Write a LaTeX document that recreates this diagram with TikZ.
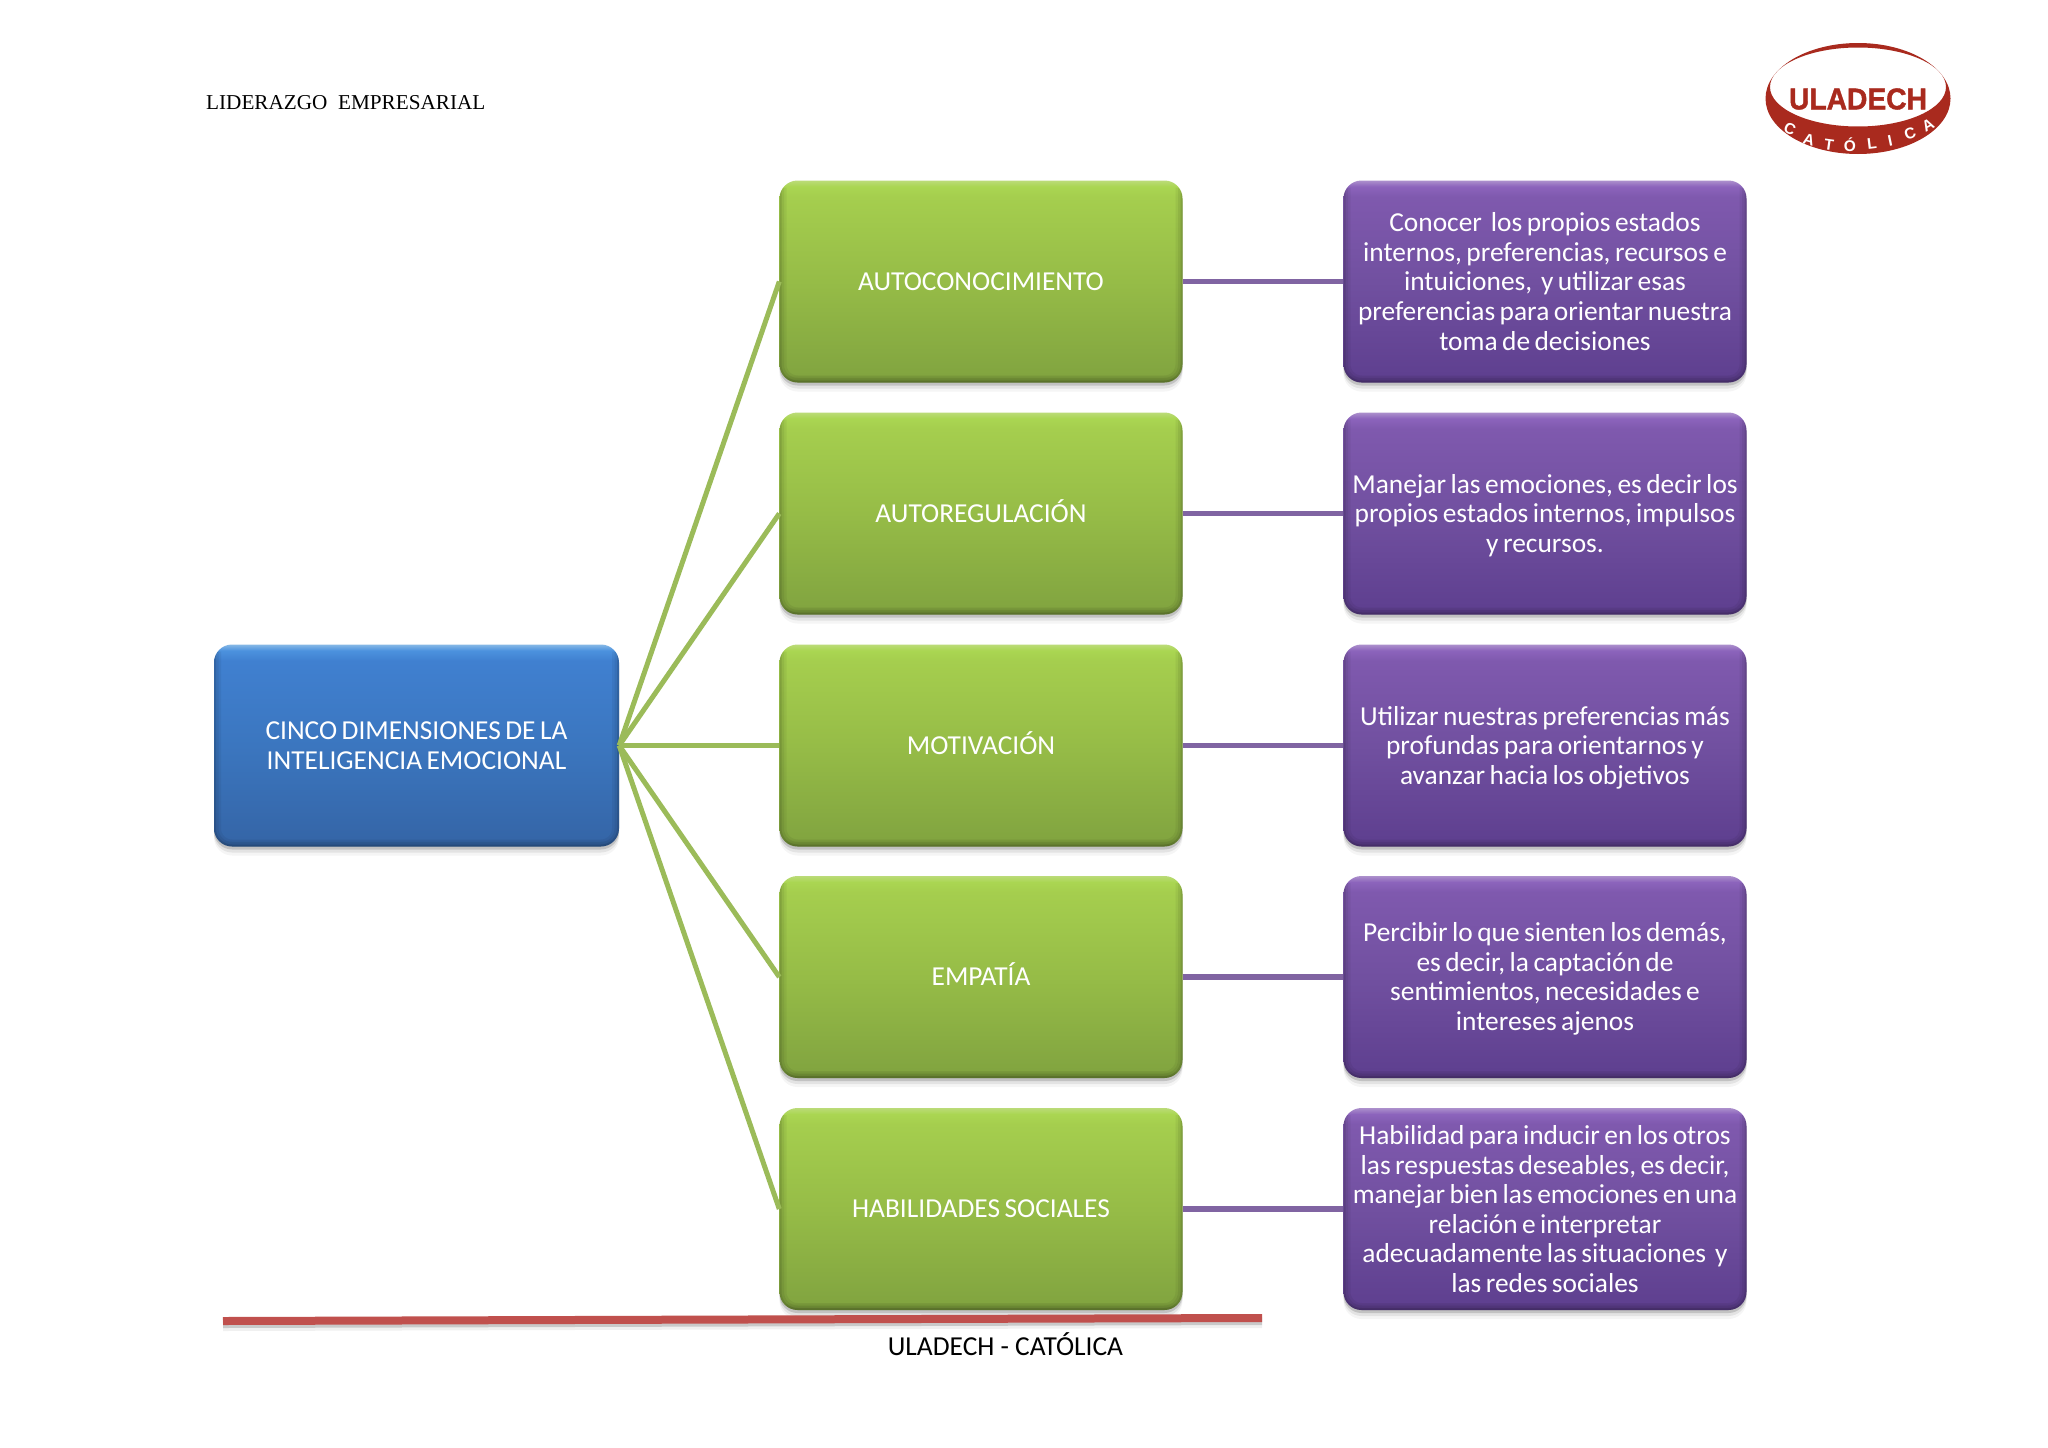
\documentclass[tikz,border=0pt]{standalone}
\usepackage{fontspec}
\setmainfont[WordSpace=0.72]{Carlito}
\newfontfamily\footfont{Carlito}
\newfontfamily\headfont{Liberation Serif}
\newfontfamily\logofont{Liberation Sans}
\newfontfamily\logoheavy[BoldFeatures={FakeBold=1.4,FakeStretch=0.94}]{Liberation Sans}
\usetikzlibrary{shadows,calc}
\definecolor{gA}{HTML}{6F8C35}\definecolor{gB}{HTML}{82A540}\definecolor{gC}{HTML}{96BC47}\definecolor{gD}{HTML}{A5CE4E}\definecolor{gE}{HTML}{AAD652}\definecolor{gF}{HTML}{BBDB78}
\definecolor{bA}{HTML}{2F5C96}\definecolor{bB}{HTML}{3566A8}\definecolor{bC}{HTML}{3B76BF}\definecolor{bD}{HTML}{4080D0}\definecolor{bE}{HTML}{4C92DE}\definecolor{bF}{HTML}{86B8E6}
\definecolor{pA}{HTML}{553A80}\definecolor{pB}{HTML}{5F4090}\definecolor{pC}{HTML}{7150A0}\definecolor{pD}{HTML}{7F59AE}\definecolor{pE}{HTML}{8C64BC}\definecolor{pF}{HTML}{AC90CC}
\pgfdeclareverticalshading{greenfill}{100bp}{color(0bp)=(gA); color(25bp)=(gA); color(27bp)=(gB); color(50bp)=(gC); color(71bp)=(gD); color(73.5bp)=(gE); color(75bp)=(gF); color(100bp)=(gF)}
\pgfdeclareverticalshading{bluefill}{100bp}{color(0bp)=(bA); color(25bp)=(bA); color(27bp)=(bB); color(50bp)=(bC); color(71bp)=(bD); color(73.5bp)=(bE); color(75bp)=(bF); color(100bp)=(bF)}
\pgfdeclareverticalshading{purplefill}{100bp}{color(0bp)=(pA); color(25bp)=(pA); color(27bp)=(pB); color(50bp)=(pC); color(71bp)=(pD); color(73.5bp)=(pE); color(75bp)=(pF); color(100bp)=(pF)}
\definecolor{linkgreen}{HTML}{9BBB59}
\definecolor{linkpurple}{HTML}{8064A2}
\definecolor{rulered}{HTML}{C0504D}
\definecolor{logored}{HTML}{A92A1E}
\newcommand{\pushdown}{\rule{0pt}{23pt}}
\tikzset{
  x=1pt,y=-1pt,
  softshadow/.style={
    general shadow={fill=black,opacity=.04,shadow yshift=-9pt},
    general shadow={fill=black,opacity=.07,shadow yshift=-6pt},
    general shadow={fill=black,opacity=.14,shadow yshift=-3pt}},
  basebox/.style={rectangle,rounded corners=18pt,minimum height=202pt,inner sep=0pt,text=white,align=center,
    font=\fontsize{27.4}{29.6}\selectfont,softshadow,
    path picture={
      \foreach \wd/\op in {14/.05,9/.06,4/.10}
        \draw[black,opacity=\op,line width=\wd pt,rounded corners=18pt]
          ([yshift=-7pt]path picture bounding box.north west)
          -- (path picture bounding box.south west)
          -- (path picture bounding box.south east)
          -- ([yshift=-7pt]path picture bounding box.north east);
    }},
  rootbox/.style={basebox,minimum width=405pt,shading=bluefill},
  dimbox/.style={basebox,minimum width=403pt,shading=greenfill},
  descbox/.style={basebox,minimum width=403pt,shading=purplefill},
  greenlink/.style={draw=linkgreen,line width=5pt},
  purplelink/.style={draw=linkpurple,line width=5.2pt},
  redrule/.style={draw=rulered,line width=8pt},
  ruleshadowA/.style={draw=black,line width=8pt,opacity=.16},
  ruleshadowB/.style={draw=black,line width=10pt,opacity=.06},
  logoletter/.style={text=white,font=\logofont\bfseries\fontsize{15.5}{15.5}\selectfont,inner sep=0pt},
}
\begin{document}
\begin{tikzpicture}
\useasboundingbox (0,0) rectangle (2048,1448);
\fill[white] (0,0) rectangle (2048,1448);

% header and logo
\node[anchor=base west,inner sep=0pt,font=\headfont\fontsize{21.2}{26}\selectfont] (title) at (206,109) {LIDERAZGO\ \ EMPRESARIAL};
\fill[logored,even odd rule] (1858,98.5) ellipse [x radius=92.5,y radius=55.5]
      (1858,87) ellipse [x radius=88,y radius=39.5];
\node[text=logored,inner sep=0pt,font=\logoheavy\bfseries\fontsize{30}{31}\selectfont] (logoname) at (1858,99) {ULADECH};
\node[logoletter,rotate=-24] (l1) at (1790,129) {C};
\node[logoletter,rotate=-15] (l2) at (1809,140) {A};
\node[logoletter,rotate=-8]  (l3) at (1829,144.5) {T};
\node[logoletter]            (l4) at (1850,145) {Ó};
\node[logoletter,rotate=7]   (l5) at (1872,144) {L};
\node[logoletter,rotate=12]  (l6) at (1890,141) {I};
\node[logoletter,rotate=20]  (l7) at (1910,134) {C};
\node[logoletter,rotate=28]  (l8) at (1928,125) {A};

% boxes
\node[rootbox] (root) at (416.5,745.5) {CINCO DIMENSIONES DE LA\\INTELIGENCIA EMOCIONAL};

\node[dimbox] (d1) at (981,281.5) {AUTOCONOCIMIENTO};
\node[dimbox] (d2) at (981,513.5) {AUTOREGULACI\smash{Ó}N};
\node[dimbox] (d3) at (981,745.5) {MOTIVACI\smash{Ó}N};
\node[dimbox] (d4) at (981,977) {EMPAT\smash{Í}A};
\node[dimbox] (d5) at (981,1209) {HABILIDADES SOCIALES};

\node[descbox] (t1) at (1545,281.5) {Conocer\ \ los propios estados\\internos, preferencias, recursos e\\intuiciones,\ \ y utilizar esas\\preferencias para orientar nuestra\\toma de decisiones};
\node[descbox] (t2) at (1545,513.5) {\pushdown Manejar las emociones, es decir los\\propios estados internos, impulsos\\y recursos.};
\node[descbox] (t3) at (1545,745.5) {\pushdown Utilizar nuestras preferencias más\\profundas para orientarnos y\\avanzar hacia los objetivos};
\node[descbox] (t4) at (1545,977) {\pushdown Percibir lo que sienten los demás,\\es decir, la captación de\\sentimientos, necesidades e\\intereses ajenos};
\node[descbox] (t5) at (1545,1209) {Habilidad para inducir en los otros\\las respuestas deseables, es decir,\\manejar bien las emociones en una\\relación e interpretar\\adecuadamente las situaciones\ \ y\\las redes sociales};

% connectors
\foreach \k in {1,...,5} {
  \draw[greenlink] (root.east) -- (d\k.west);
  \draw[purplelink] (d\k.east) -- (t\k.west);
}

% footer rule
\coordinate (ruleA) at (223,1321);
\coordinate (ruleB) at (1262,1318);
\coordinate (ruleAs) at (223,1324);
\coordinate (ruleBs) at (1262,1321);
\coordinate (ruleAt) at (223,1326);
\coordinate (ruleBt) at (1262,1323);
\draw[ruleshadowB] (ruleAt) -- (ruleBt);
\draw[ruleshadowA] (ruleAs) -- (ruleBs);
\draw[redrule] (ruleA) -- (ruleB);
\node[inner sep=0pt,font=\footfont\fontsize{27.4}{30}\selectfont] (footer) at (1005.5,1344) {ULADECH - CATÓLICA};
\end{tikzpicture}
\end{document}
